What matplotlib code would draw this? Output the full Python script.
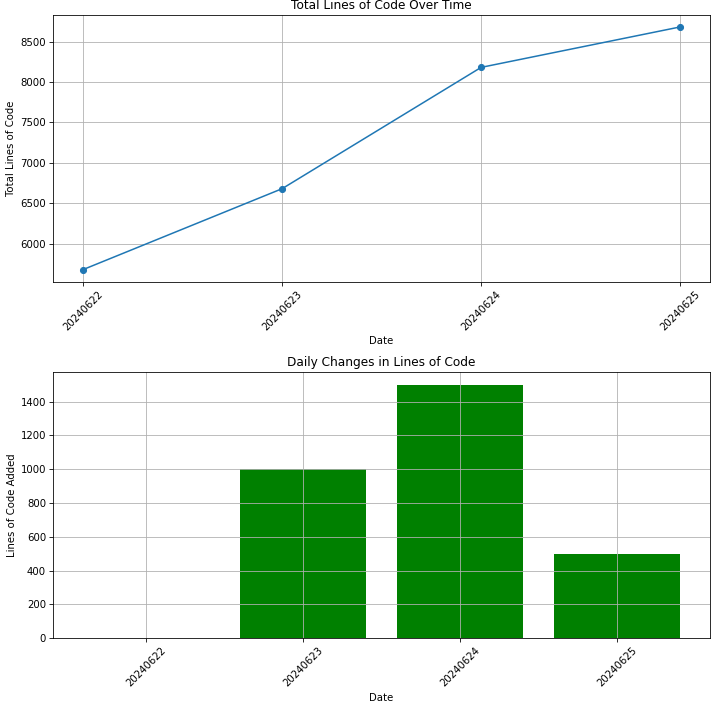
import matplotlib
matplotlib.use('Agg')
import matplotlib.pyplot as plt

dates = ['20240622', '20240623', '20240624', '20240625']
total_lines = [5680, 6680, 8180, 8680]
daily_changes = [0, 1000, 1500, 500]

# reference looks like a larger figure scaled down, so use a low dpi
dpi = 73
fig = plt.figure(figsize=(720 / dpi, 706 / dpi), dpi=dpi)
ax1 = fig.add_axes([0.074, 0.601, 0.912, 0.378])
ax2 = fig.add_axes([0.074, 0.096, 0.912, 0.377])

ax1.plot(dates, total_lines, marker='o')
ax1.set_title('Total Lines of Code Over Time')
ax1.set_xlabel('Date')
ax1.set_ylabel('Total Lines of Code')
ax1.tick_params(axis='x', rotation=45)
ax1.grid(True)

ax2.bar(dates, daily_changes, color='green')
ax2.set_title('Daily Changes in Lines of Code')
ax2.set_xlabel('Date')
ax2.set_ylabel('Lines of Code Added')
ax2.tick_params(axis='x', rotation=45)
ax2.grid(True)

fig.savefig('out.png', dpi=dpi)
